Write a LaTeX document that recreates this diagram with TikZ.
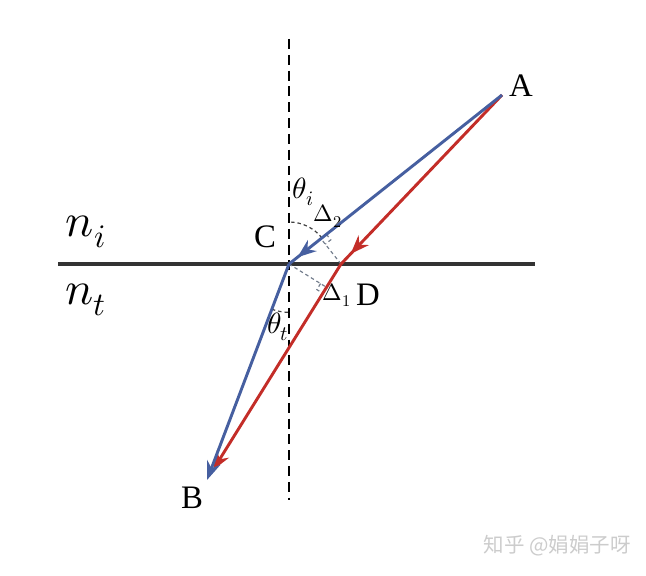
\documentclass[tikz,border=0pt]{standalone}
\usepackage{fontspec}
\usepackage{unicode-math}
\setmainfont{Liberation Serif}
\setmathfont{Latin Modern Math}
\newfontfamily\cjk{Noto Sans CJK SC}
\usetikzlibrary{calc,angles,arrows.meta,decorations.markings}
\definecolor{rayblue}{RGB}{70,95,160}
\definecolor{rayred}{RGB}{195,45,40}
\definecolor{hintgray}{RGB}{115,125,140}

\begin{document}
\begin{tikzpicture}[x=0.03cm,y=0.03cm]
	\tikzstyle{ray} = [line width=2.5pt]
	\tikzstyle{hint} = [draw=hintgray, line width=1pt, dash pattern=on 3pt off 2.5pt]
	\tikzstyle{lbl} = [font=\fontsize{28}{32}\selectfont, inner sep=0pt]
	\tikzstyle{sym} = [font=\fontsize{25}{28}\selectfont, inner sep=0pt]
	\tikzstyle{bluetip} = [postaction=decorate, decoration={markings, mark=at position 0.96 with {\arrow{Stealth[length=16pt,width=12pt]}}}]
	\tikzstyle{redtip} = [postaction=decorate, decoration={markings, mark=at position 0.94 with {\arrow{Stealth[length=16pt,width=12pt]}}}]
	
	\useasboundingbox (0,0) rectangle (646,575);
	
	\coordinate (top) at (289,536);
	\coordinate (bot) at (289,75);
	\coordinate (left) at (58,311);
	\coordinate (right) at (535,311);
	\coordinate (A) at (502,480);
	\coordinate (C) at (289,311);
	\coordinate (D) at (341,311);
	\coordinate (B) at (207,95);
	\coordinate (E) at (213,105);
	
	% normal and interface
	\draw[line width=1.7pt, dash pattern=on 8.5pt off 5pt] (top) -- (bot);
	\draw[line width=2.8pt, black!80] (left) -- (right);
	
	% perpendiculars
	\coordinate (F2) at ($(C)!(D)!(A)$);
	\coordinate (F1) at ($(D)!(C)!(E)$);
	\draw[hint] (D) -- (F2);
	\draw[hint] (C) -- (F1);
	\pic[hint, angle radius=6pt] {right angle = A--F2--D};
	\pic[hint, angle radius=6pt] {right angle = C--F1--E};
	
	% angles
	\pic[hint, draw=black!75, angle radius=1.26cm] {angle = A--C--top};
	\pic[hint, draw=black!75, angle radius=1.45cm] {angle = B--C--bot};
	
	% rays
	\draw[ray, rayred, redtip] (A) -- (D);
	\draw[ray, rayred, -{Stealth[length=16pt,width=12pt]}] (D) -- (E);
	\draw[ray, rayblue, bluetip] (A) -- (C);
	\draw[ray, rayblue, -{Stealth[length=16pt,width=12pt]}] (C) -- (B);
	
	\node[lbl] (lA) at (521,489) {A};
	\node[lbl] (lB) at (192,77) {B};
	\node[lbl] (lC) at (265,338) {C};
	\node[lbl] (lD) at (368,280) {D};
	\node[sym] (ti) at (303,383) {$\theta_i$};
	\node[sym] (tt) at (278,248) {$\theta_t$};
	\node[font=\fontsize{20}{24}\selectfont, inner sep=0pt] (d2) at (328,359) {$\Delta_2$};
	\node[font=\fontsize{20}{24}\selectfont, inner sep=0pt] (d1) at (337,280) {$\Delta_1$};
	\node[font=\fontsize{40}{46}\selectfont] (ni) at (86,343) {$n_i$};
	\node[font=\fontsize{40}{46}\selectfont] (nt) at (86,275) {$n_t$};
	\node[font=\cjk\fontsize{17.5}{21}\selectfont, text=black!20] (mark) at (557,29) {知乎 @娟娟子呀};
\end{tikzpicture}
\end{document}
